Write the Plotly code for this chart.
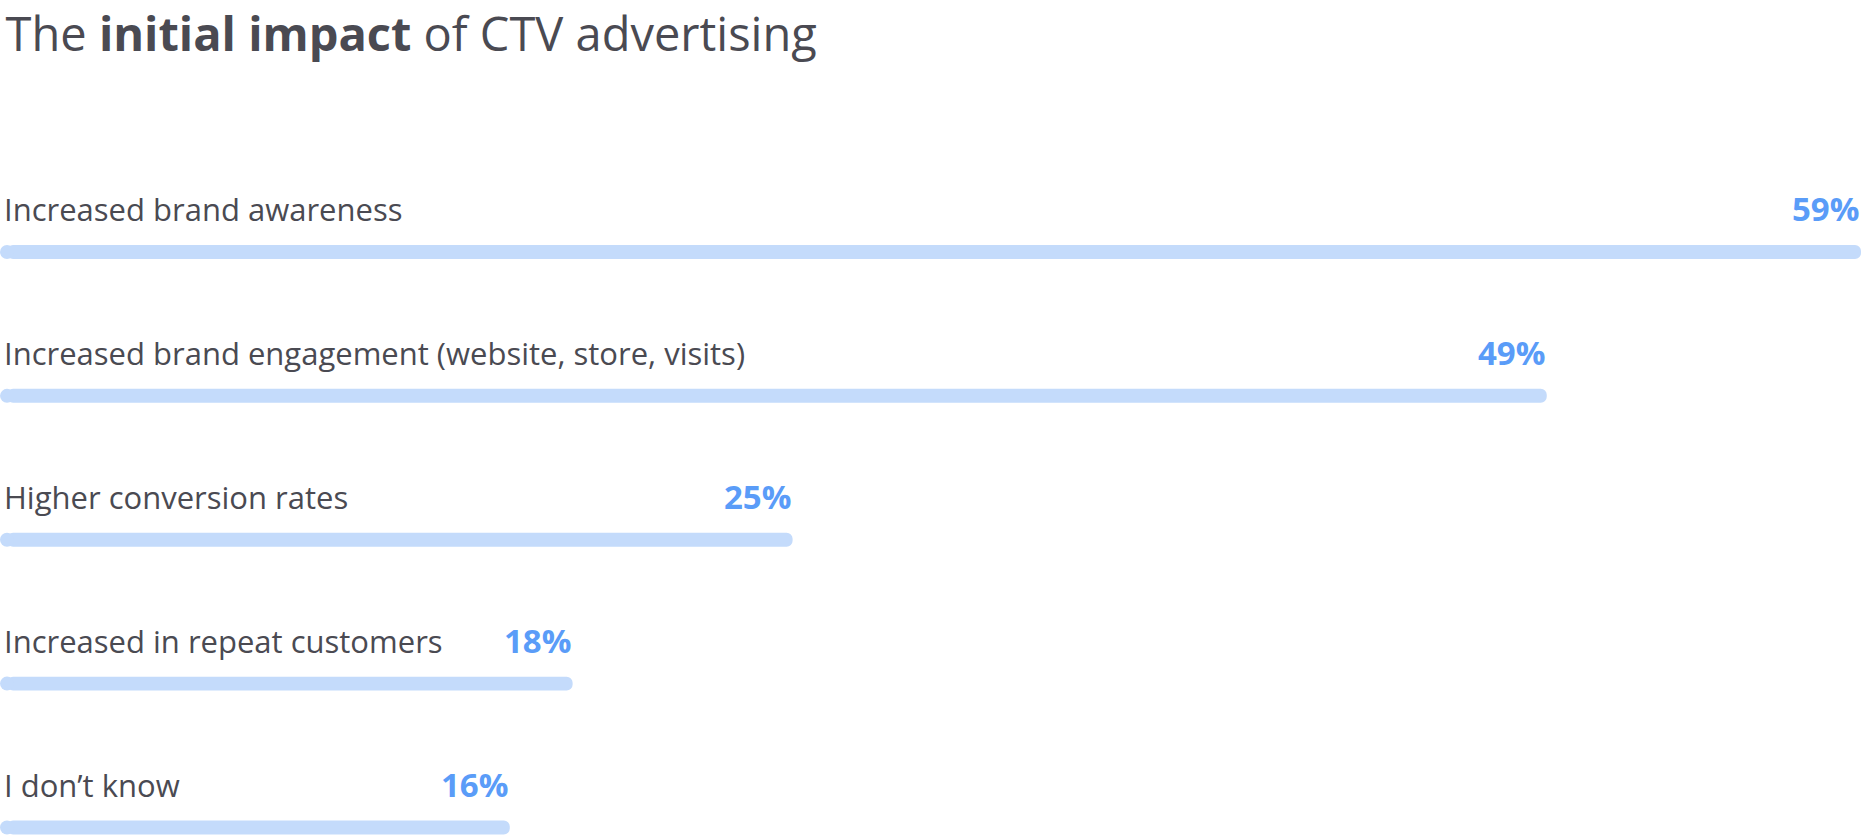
import plotly.graph_objects as go

categories = ["Increased brand awareness",
              "Increased brand engagement (website, store, visits)",
              "Higher conversion rates",
              "Increased in repeat customers",
              "I don\u2019t know"]
values = [59, 49, 25, 18, 16]
value_labels = ["59%", "49%", "25%", "18%", "16%"]

text_col = "#4a4a52"
blue = "#5a9cf8"
bar_col = "#c4dbfb"
font = "Open Sans"

idx = list(range(len(categories)))

fig = go.Figure()
fig.add_trace(go.Bar(x=values, y=idx, orientation="h", base=0,
                     width=0.097, marker=dict(color=bar_col, cornerradius=7, line_width=0),
                     hoverinfo="skip"))
# round the left end too
fig.add_trace(go.Scatter(x=[0] * len(idx), y=idx, mode="markers",
                         marker=dict(color=bar_col, size=14, line_width=0),
                         hoverinfo="skip"))

for i, (c, v, t) in enumerate(zip(categories, values, value_labels)):
    fig.add_annotation(x=0, xref="paper", y=i, yref="y", text=c, showarrow=False,
                       xanchor="left", yanchor="middle", yshift=43, xshift=2,
                       font=dict(family=font, size=31, color=text_col))
    fig.add_annotation(x=v, xref="x", y=i, yref="y", text="<b>" + t + "</b>", showarrow=False,
                       xanchor="right", yanchor="middle", yshift=43,
                       font=dict(family=font, size=33, color=blue))

fig.update_layout(
    width=1861, height=837,
    margin=dict(l=0, r=0, t=180, b=0),
    paper_bgcolor="white", plot_bgcolor="white",
    showlegend=False,
    title=dict(text="The <b>initial impact</b> of CTV advertising", x=0.003, xanchor="left",
               y=0.959, yanchor="middle",
               font=dict(family=font, size=47, color=text_col)),
    xaxis=dict(range=[-0.223, 59], visible=False, fixedrange=True),
    yaxis=dict(range=[4.066, -0.5], visible=False, fixedrange=True),
)

# page body has an 8px default margin; drop it so the figure sits at 0,0
fig.write_html("out.html", config={"displayModeBar": False},
               post_script="document.body.style.margin='0';")
